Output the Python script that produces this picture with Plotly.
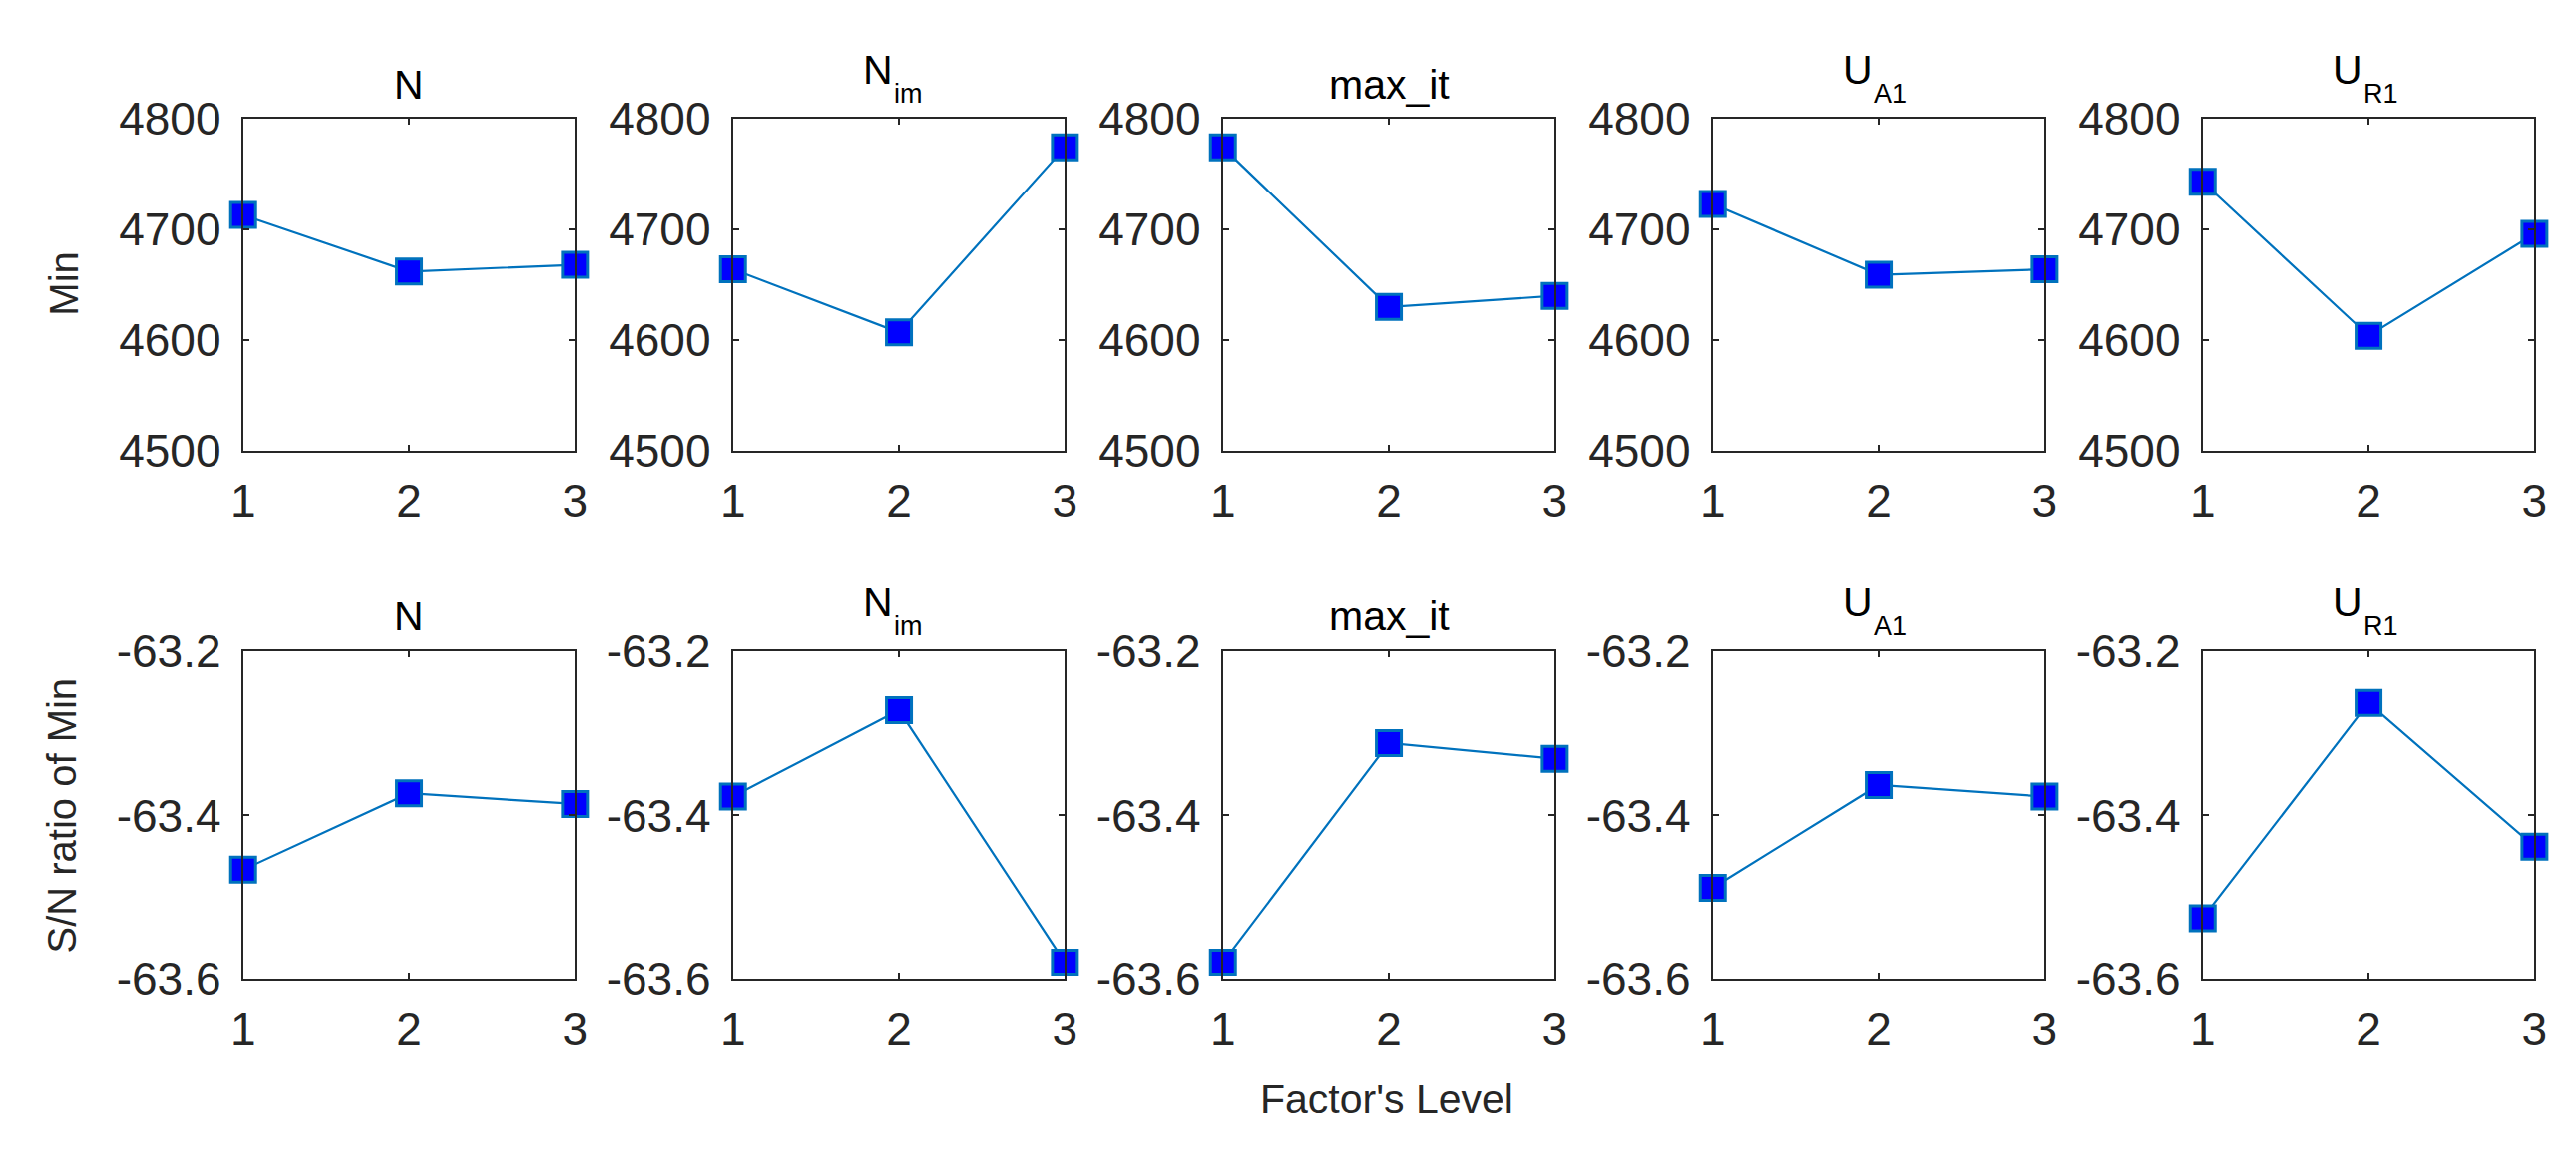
import plotly.graph_objects as go
from plotly.subplots import make_subplots

W, H = 2582, 1152

levels = [1, 2, 3]
# title of each column: main letter and subscript (MATLAB style "N_{im}")
factor_main = ["N", "N", "max_it", "U", "U"]
factor_sub = ["", "im", "", "A1", "R1"]

# mean of Min per factor level
n_min = [4713, 4662, 4668]
nim_min = [4664, 4607, 4774]
maxit_min = [4774, 4630, 4640]
ua1_min = [4723, 4659, 4664]
ur1_min = [4743, 4604, 4696]

# S/N ratio of Min per factor level
n_sn = [-63.466, -63.373, -63.386]
nim_sn = [-63.377, -63.272, -63.579]
maxit_sn = [-63.579, -63.312, -63.331]
ua1_sn = [-63.488, -63.363, -63.377]
ur1_sn = [-63.525, -63.263, -63.438]

min_ticks = [4500, 4600, 4700, 4800]
min_ticktext = ["4500", "4600", "4700", "4800"]
sn_ticks = [-63.6, -63.4, -63.2]
sn_ticktext = ["-63.6", "-63.4", "-63.2"]

top_rows = [n_min, nim_min, maxit_min, ua1_min, ur1_min]
bottom_rows = [n_sn, nim_sn, maxit_sn, ua1_sn, ur1_sn]

FONT = "Arial, Liberation Sans, sans-serif"
LINE_BLUE = "#0072BD"
AX = "#262626"

fig = make_subplots(rows=2, cols=5)

# panel geometry in pixels
left0, pw, step = 225, 336, 496
row_y = [(89, 438), (648, 993)]

for r, (data_rows, yr, tv, tt) in enumerate([
        (top_rows, [4500, 4800], min_ticks, min_ticktext),
        (bottom_rows, [-63.6, -63.2], sn_ticks, sn_ticktext)]):
    y_top, y_bot = row_y[r]
    for c in range(5):
        fig.add_trace(go.Scatter(
            x=levels, y=data_rows[c], mode="lines+markers",
            line=dict(color=LINE_BLUE, width=2.2),
            marker=dict(symbol="square", size=25, color="#0000FF",
                        line=dict(color=LINE_BLUE, width=3)),
            cliponaxis=False, showlegend=False),
            row=r + 1, col=c + 1)
        x0 = left0 + c * step
        fig.update_xaxes(
            domain=[x0 / W, (x0 + pw) / W], range=[1, 3],
            tickvals=levels, ticktext=[str(v) for v in levels],
            ticks="inside", ticklen=6, tickwidth=2, tickcolor=AX,
            showline=True, linecolor=AX, linewidth=2, mirror="ticks",
            showgrid=False, zeroline=False, ticklabelstandoff=9,
            tickfont=dict(family=FONT, size=46, color=AX),
            row=r + 1, col=c + 1)
        fig.update_yaxes(
            domain=[1 - y_bot / H, 1 - y_top / H], range=yr,
            tickvals=tv, ticktext=tt,
            ticks="inside", ticklen=6, tickwidth=2, tickcolor=AX,
            showline=True, linecolor=AX, linewidth=2, mirror="ticks",
            showgrid=False, zeroline=False, ticklabelstandoff=11,
            tickfont=dict(family=FONT, size=46, color=AX),
            row=r + 1, col=c + 1)

        xc = x0 + pw / 2
        if factor_sub[c]:
            # main letter raised, subscript dropped like MATLAB's tex titles
            fig.add_annotation(
                text=factor_main[c], xref="paper", yref="paper",
                x=(xc - 5) / W, y=1 - (y_top - 51) / H,
                xanchor="right", yanchor="middle", borderpad=0,
                showarrow=False, font=dict(family=FONT, size=41, color="black"))
            fig.add_annotation(
                text=factor_sub[c], xref="paper", yref="paper",
                x=(xc - 6) / W, y=1 - (y_top - 26) / H,
                xanchor="left", yanchor="middle", borderpad=0,
                showarrow=False, font=dict(family=FONT, size=27, color="black"))
        else:
            fig.add_annotation(
                text=factor_main[c], xref="paper", yref="paper",
                x=xc / W, y=1 - (y_top - 36) / H,
                xanchor="center", yanchor="middle",
                showarrow=False, font=dict(family=FONT, size=41, color="black"))

fig.add_annotation(text="Min", xref="paper", yref="paper",
                   x=44 / W, y=1 - 263 / H, textangle=-90,
                   xanchor="center", yanchor="middle", showarrow=False,
                   font=dict(family=FONT, size=40, color=AX))
fig.add_annotation(text="S/N ratio of Min", xref="paper", yref="paper",
                   x=41 / W, y=1 - 821 / H, textangle=-90,
                   xanchor="center", yanchor="middle", showarrow=False,
                   font=dict(family=FONT, size=40, color=AX))
fig.add_annotation(text="Factor's Level", xref="paper", yref="paper",
                   x=1383 / W, y=1 - 1119 / H,
                   xanchor="center", yanchor="middle", showarrow=False,
                   font=dict(family=FONT, size=41, color=AX))

fig.update_layout(width=W, height=H, margin=dict(l=0, r=0, t=0, b=0),
                  paper_bgcolor="white", plot_bgcolor="white")

fig.write_html("out.html")
